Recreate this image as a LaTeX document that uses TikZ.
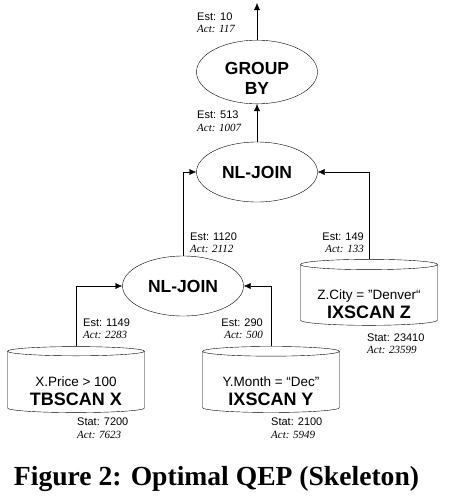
\documentclass[tikz,border=0pt]{standalone}
\usepackage{fontspec}
\setmainfont{Liberation Sans}
\newfontfamily\timesfont{Liberation Serif}
\usetikzlibrary{shapes.geometric,arrows.meta}

\begin{document}
\begin{tikzpicture}[x=1pt, y=-1pt,
    opnode/.style={draw, ellipse, minimum width=121pt, minimum height=60pt,
        inner sep=0pt, align=center, font=\fontsize{17.5}{20}\selectfont\bfseries},
    scannode/.style={draw, cylinder, shape border rotate=90, aspect=0.1,
        minimum width=137pt, minimum height=66pt, inner sep=0pt, align=center,
        font=\fontsize{13.5}{19}\selectfont},
    est/.style={inner sep=0pt, font=\fontsize{11}{12.5}\selectfont},
    flow/.style={-{Latex[length=7pt,width=6pt]}}]
\useasboundingbox (0,0) rectangle (450,498);

\node[opnode] (group) at (257,72) {\rule{0pt}{25pt}GROUP\\BY};
\node[opnode] (nlju) at (257,172) {NL-JOIN};
\node[opnode] (nljl) at (183,286) {NL-JOIN};
\node[scannode] (tbx) at (76,382) {\rule{0pt}{29pt}X.Price > 100\\{\fontsize{18}{19}\selectfont\bfseries TBSCAN X}};
\node[scannode] (ixy) at (271,382) {\rule{0pt}{29pt}Y.Month = “Dec”\\{\fontsize{18}{19}\selectfont\bfseries IXSCAN Y}};
\node[scannode] (ixz) at (369,295) {\rule{0pt}{29pt}Z.City = "Denver“\\{\fontsize{18}{19}\selectfont\bfseries IXSCAN Z}};
\coordinate (out) at (257,3);

\draw[flow] (group.north) -- (out);
\draw[flow] (nlju.north) -- (group.south);
\draw[flow] (nljl.north) |- (nlju.west);
\draw[flow] (ixz.north) |- (nlju.east);
\draw[flow] (tbx.north) |- (nljl.west);
\draw[flow] (ixy.north) |- (nljl.east);

\node[est, anchor=north west, align=left] (e10) at (197,12.5) {Est: 10\\{\timesfont\itshape Act: 117}};
\node[est, anchor=north west, align=left] (e513) at (197,111) {Est: 513\\{\timesfont\itshape Act: 1007}};
\node[est, anchor=north west, align=left] (e1120) at (190,232.5) {Est: 1120\\{\timesfont\itshape Act: 2112}};
\node[est, anchor=north east, align=right] (e149) at (364,232.5) {Est: 149\\{\timesfont\itshape Act: 133}};
\node[est, anchor=north west, align=left] (e1149) at (83,318.5) {Est: 1149\\{\timesfont\itshape Act: 2283}};
\node[est, anchor=north east, align=right] (e290) at (263,318.5) {Est: 290\\{\timesfont\itshape Act: 500}};
\node[est, anchor=north west, align=left] (s7200) at (77,418) {Stat: 7200\\{\timesfont\itshape Act: 7623}};
\node[est, anchor=north west, align=left] (s2100) at (271,418) {Stat: 2100\\{\timesfont\itshape Act: 5949}};
\node[est, anchor=north west, align=left] (s23410) at (367,333.5) {Stat: 23410\\{\timesfont\itshape Act: 23599}};

\node[anchor=base, inner sep=0pt, font=\timesfont\bfseries\fontsize{27.6}{30}\selectfont] (caption) at (216.5,485) {Figure 2: Optimal QEP (Skeleton)};
\end{tikzpicture}
\end{document}
